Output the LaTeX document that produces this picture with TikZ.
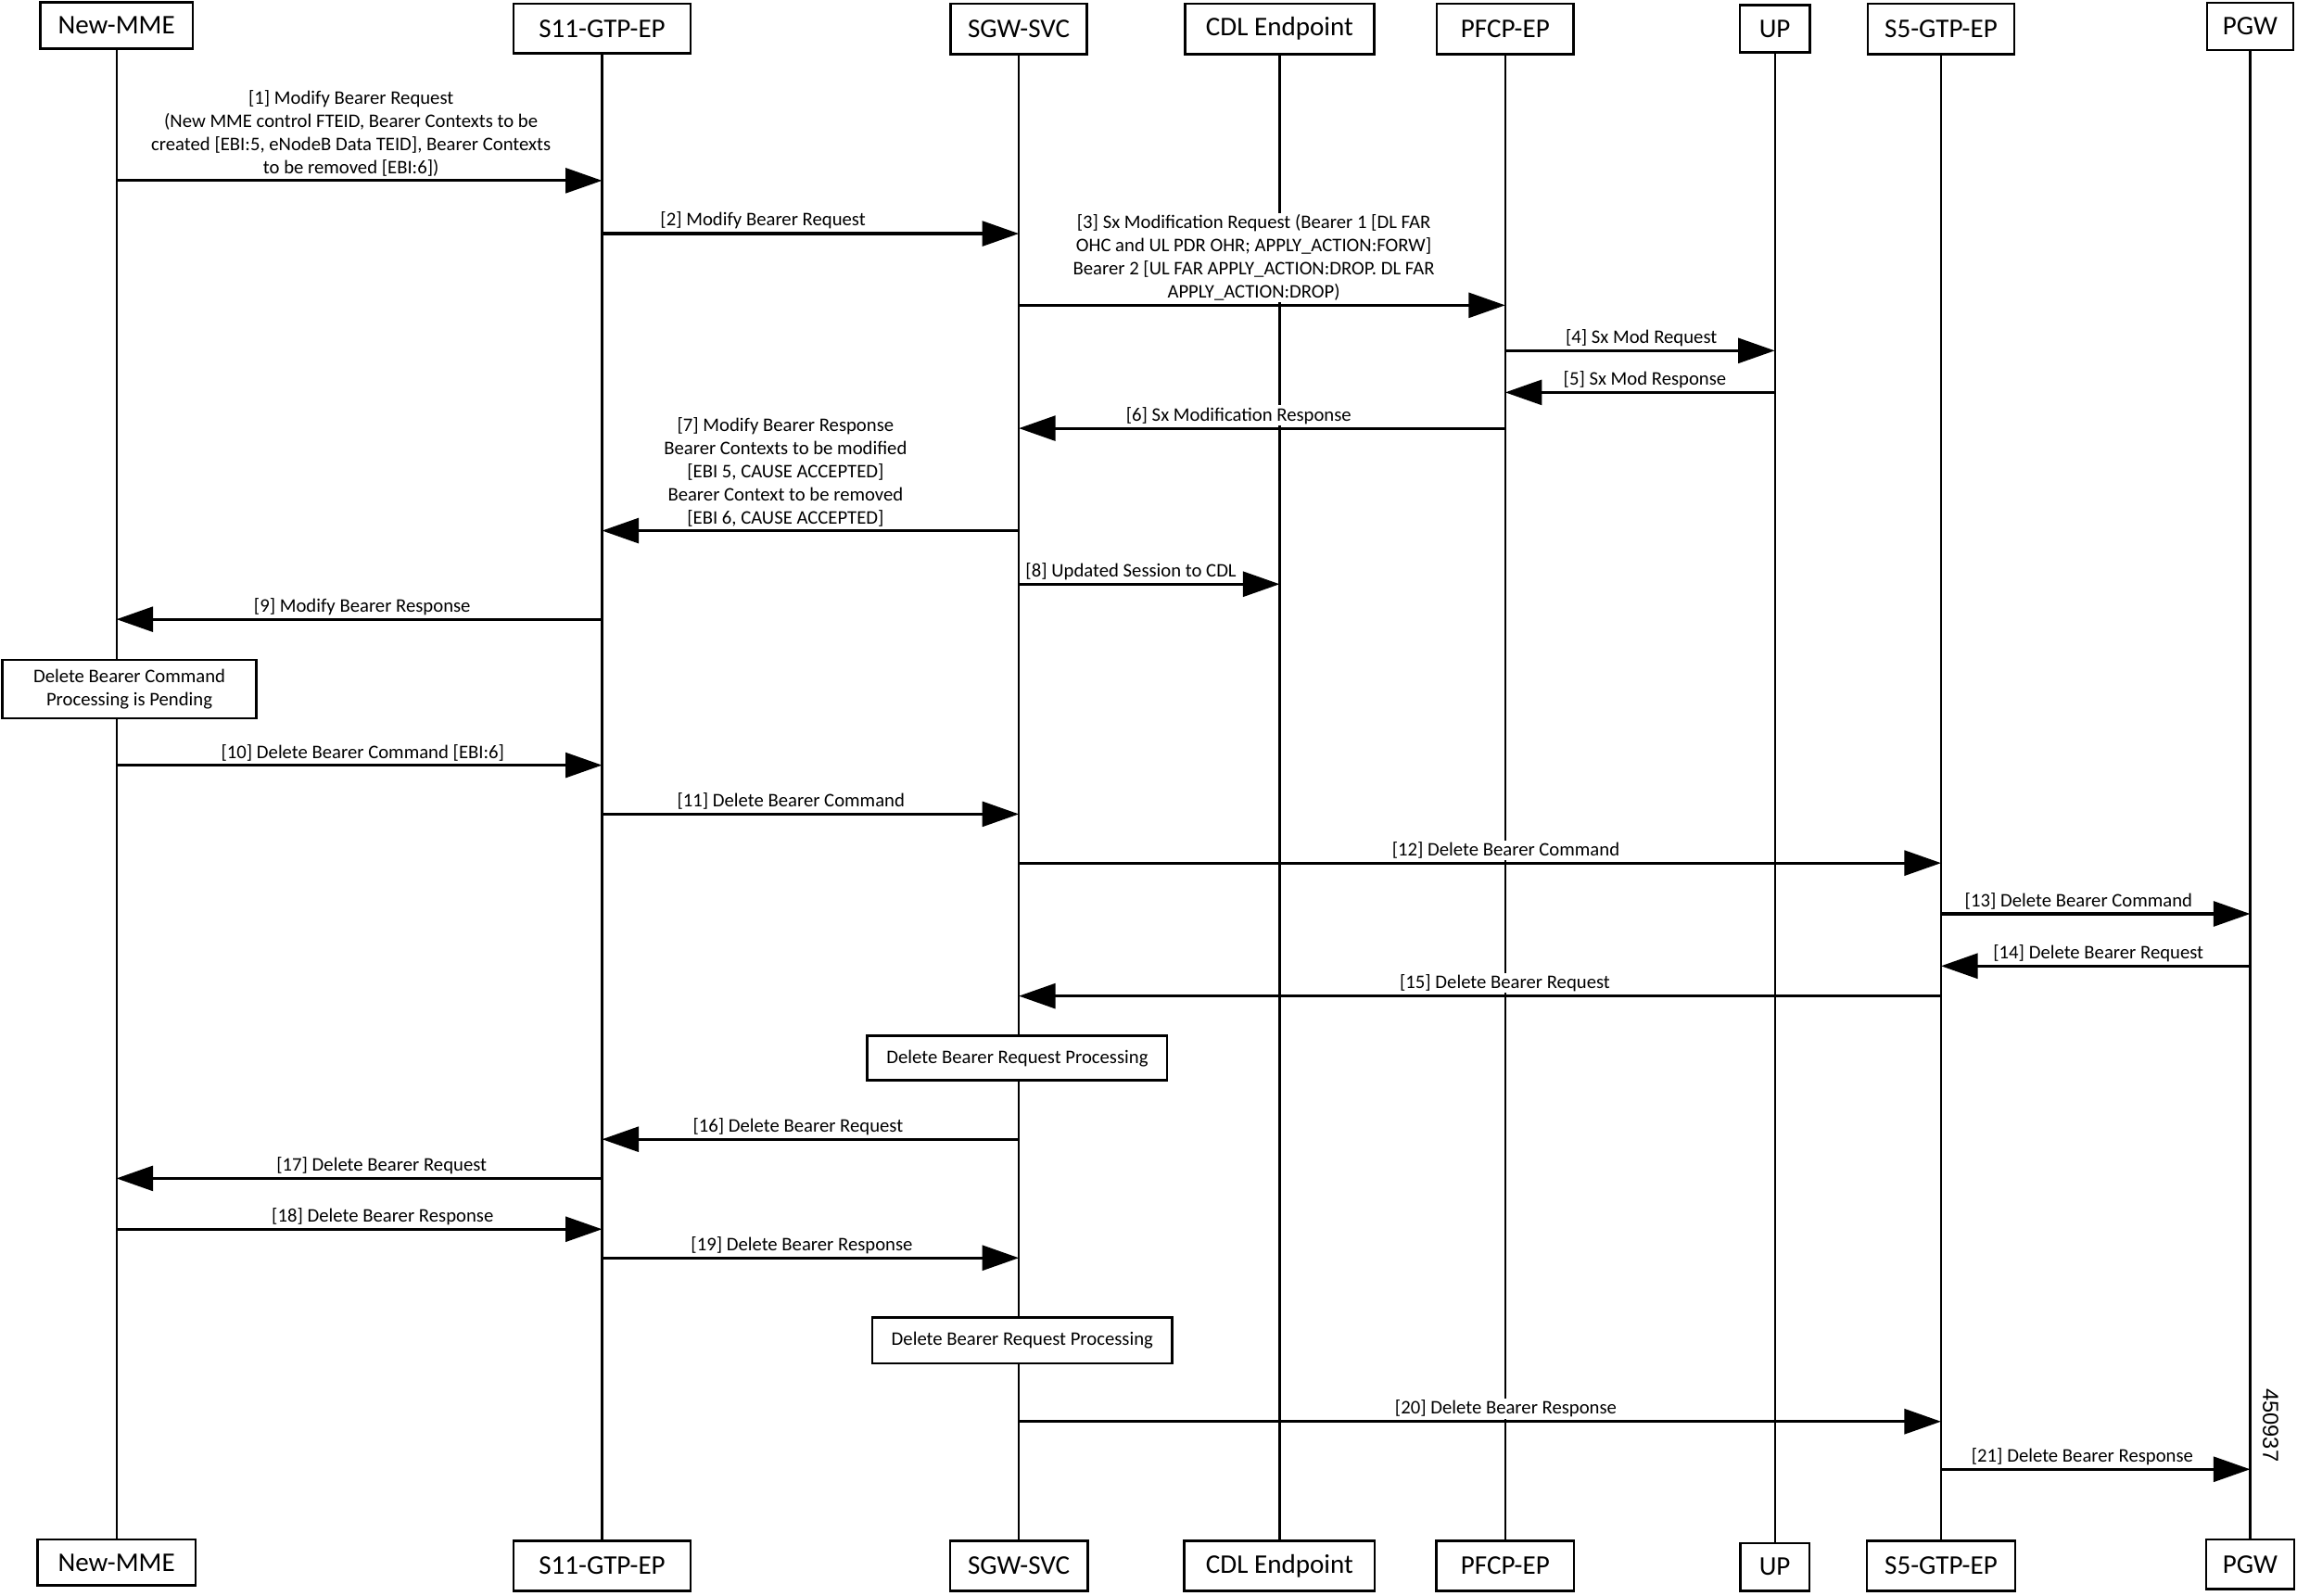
\documentclass[tikz,border=0pt]{standalone}
\usepackage{fontspec}
\setmainfont{Carlito}
\newfontfamily\numfont{Liberation Sans}
\usetikzlibrary{arrows.meta}

\begin{document}
\begin{tikzpicture}[x=1pt, y=-1pt,
  ent/.style={draw, line width=1.6pt, fill=white, inner sep=0pt, font=\fontsize{18.4}{22}\selectfont},
  note/.style={draw, line width=1.6pt, fill=white, inner sep=0pt, align=center, font=\fontsize{13.1}{16}\selectfont},
  life/.style={line width=1.4pt},
  msg/.style={line width=2pt, -{Triangle[length=25pt, width=17pt]}},
  lbl/.style={above, yshift=1pt, fill=white, inner sep=1pt, align=center, font=\fontsize{13.1}{15.8}\selectfont}]
\useasboundingbox (0,0) rectangle (1568,1089.6);

% Entities, top
\node[ent, minimum width=104pt, minimum height=31.4pt] (mmeT) at (79.5,17.4) {New-MME};
\node[ent, minimum width=121pt, minimum height=34pt] (s11T) at (411,19.5) {S11-GTP-EP};
\node[ent, minimum width=93pt, minimum height=34.5pt] (sgwT) at (695.5,19.7) {SGW-SVC};
\node[ent, minimum width=129pt, minimum height=34.5pt] (cdlT) at (873.5,19.7) {CDL Endpoint};
\node[ent, minimum width=93.4pt, minimum height=34.5pt] (pfcpT) at (1027.5,19.7) {PFCP-EP};
\node[ent, minimum width=47.6pt, minimum height=32.3pt] (upT) at (1211.5,19.7) {UP};
\node[ent, minimum width=100.2pt, minimum height=34.5pt] (s5T) at (1325,19.7) {S5-GTP-EP};
\node[ent, minimum width=59pt, minimum height=32.5pt] (pgwT) at (1536,18) {PGW};

% Entities, bottom
\node[ent, minimum width=108pt, minimum height=31.6pt] (mmeB) at (79.5,1066.7) {New-MME};
\node[ent, minimum width=121pt, minimum height=34pt] (s11B) at (411,1069) {S11-GTP-EP};
\node[ent, minimum width=94pt, minimum height=34pt] (sgwB) at (695.5,1069) {SGW-SVC};
\node[ent, minimum width=130pt, minimum height=34pt] (cdlB) at (873.5,1069) {CDL Endpoint};
\node[ent, minimum width=94pt, minimum height=34pt] (pfcpB) at (1027.5,1069) {PFCP-EP};
\node[ent, minimum width=47pt, minimum height=32.4pt] (upB) at (1211.5,1069.8) {UP};
\node[ent, minimum width=101pt, minimum height=34pt] (s5B) at (1325,1069) {S5-GTP-EP};
\node[ent, minimum width=60pt, minimum height=34pt] (pgwB) at (1536,1068) {PGW};

% Lifelines
\foreach \e in {mme,s11,sgw,cdl,pfcp,up,s5,pgw}
  \draw[life] (\e T.south) -- (\e B.north);

% Modify bearer
\draw[msg] (mmeT |- 0,123.3) -- (s11T |- 0,123.3) node[lbl, pos=.483] {[1] Modify Bearer Request\\(New MME control FTEID, Bearer Contexts to be\\created [EBI:5, eNodeB Data TEID], Bearer Contexts\\to be removed [EBI:6])};
\draw[msg] (s11T |- 0,159.5) -- (sgwT |- 0,159.5) node[lbl, pos=.386] {[2] Modify Bearer Request};
\draw[msg] (sgwT |- 0,208.4) -- (pfcpT |- 0,208.4) node[lbl, pos=.483] {[3] Sx Modification Request (Bearer 1 [DL FAR\\OHC and UL PDR OHR; APPLY\_ACTION:FORW]\\Bearer 2 [UL FAR APPLY\_ACTION:DROP. DL FAR\\APPLY\_ACTION:DROP)};
\draw[msg] (pfcpT |- 0,239.4) -- (upT |- 0,239.4) node[lbl, pos=.505] {[4] Sx Mod Request};
\draw[msg] (upT |- 0,267.9) -- (pfcpT |- 0,267.9) node[lbl, pos=.482] {[5] Sx Mod Response};
\draw[msg] (pfcpT |- 0,292.4) -- (sgwT |- 0,292.4) node[lbl, pos=.548] {[6] Sx Modification Response};
\draw[msg] (sgwT |- 0,362.3) -- (s11T |- 0,362.3) node[lbl, pos=.56] {[7] Modify Bearer Response\\Bearer Contexts to be modified\\{}[EBI 5, CAUSE ACCEPTED]\\Bearer Context to be removed\\{}[EBI 6, CAUSE ACCEPTED]};
\draw[msg] (sgwT |- 0,398.8) -- (cdlT |- 0,398.8) node[lbl, pos=.43] {[8] Updated Session to CDL};
\draw[msg] (s11T |- 0,422.8) -- (mmeT |- 0,422.8) node[lbl, pos=.494] {[9] Modify Bearer Response};

% Delete bearer command
\node[note, minimum width=173.5pt, minimum height=39.7pt] (pend) at (88.3,470.5) {Delete Bearer Command\\Processing is Pending};
\draw[msg] (mmeT |- 0,522.4) -- (s11T |- 0,522.4) node[lbl, pos=.507] {[10] Delete Bearer Command [EBI:6]};
\draw[msg] (s11T |- 0,555.8) -- (sgwT |- 0,555.8) node[lbl, pos=.453] {[11] Delete Bearer Command};
\draw[msg] (sgwT |- 0,589.2) -- (s5T |- 0,589.2) node[lbl, pos=.528] {[12] Delete Bearer Command};
\draw[msg] (s5T |- 0,623.9) -- (pgwT |- 0,623.9) node[lbl, pos=.445] {[13] Delete Bearer Command};
\draw[msg] (pgwT |- 0,659.5) -- (s5T |- 0,659.5) node[lbl, pos=.491] {[14] Delete Bearer Request};
\draw[msg] (s5T |- 0,680) -- (sgwT |- 0,680) node[lbl, pos=.473] {[15] Delete Bearer Request};

% Delete bearer request
\node[note, minimum width=204.7pt, minimum height=30.4pt] (proc1) at (694.4,722.4) {Delete Bearer Request Processing};
\draw[msg] (sgwT |- 0,777.8) -- (s11T |- 0,777.8) node[lbl, pos=.53] {[16] Delete Bearer Request};
\draw[msg] (s11T |- 0,804.5) -- (mmeT |- 0,804.5) node[lbl, pos=.454] {[17] Delete Bearer Request};
\draw[msg] (mmeT |- 0,839.2) -- (s11T |- 0,839.2) node[lbl, pos=.548] {[18] Delete Bearer Response};
\draw[msg] (s11T |- 0,858.8) -- (sgwT |- 0,858.8) node[lbl, pos=.479] {[19] Delete Bearer Response};
\node[note, minimum width=204.5pt, minimum height=31.2pt] (proc2) at (697.8,915.2) {Delete Bearer Request Processing};
\draw[msg] (sgwT |- 0,970.5) -- (s5T |- 0,970.5) node[lbl, pos=.528] {[20] Delete Bearer Response};
\draw[msg] (s5T |- 0,1003.1) -- (pgwT |- 0,1003.1) node[lbl, pos=.457] {[21] Delete Bearer Response};

\node[rotate=-90, inner sep=0pt, font=\numfont\fontsize{15}{18}\selectfont] (figno) at (1550,973) {450937};
\end{tikzpicture}
\end{document}
